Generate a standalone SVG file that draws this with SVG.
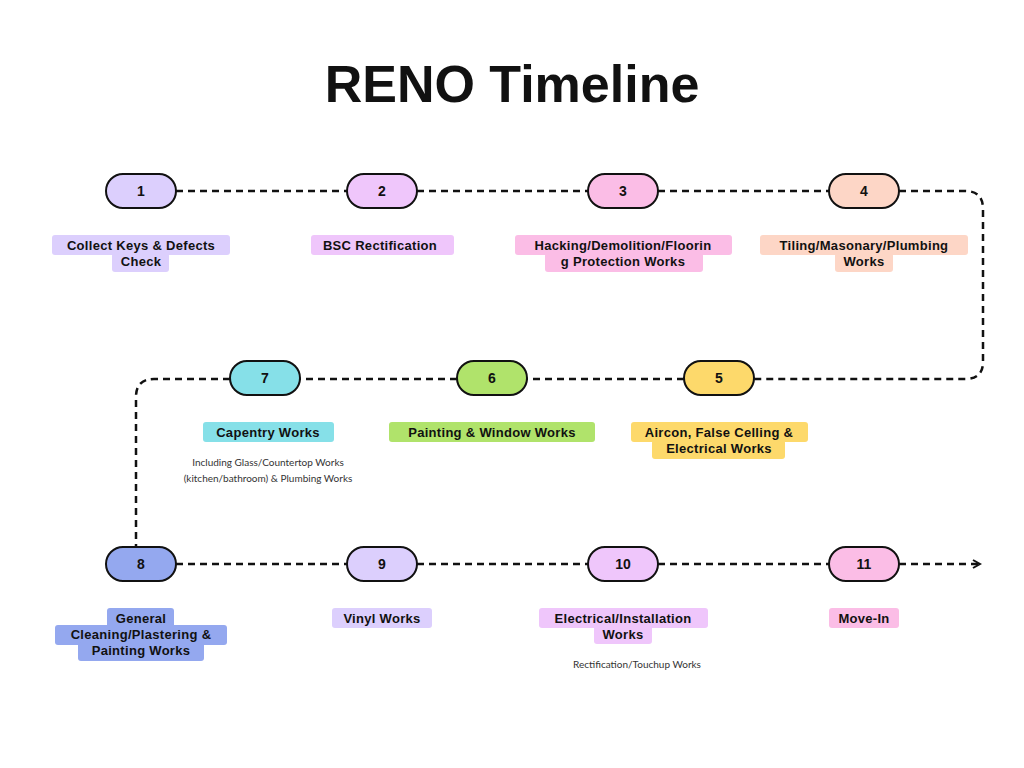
<svg xmlns="http://www.w3.org/2000/svg" width="1024" height="768" viewBox="0 0 1024 768">
<style>
.t{font-family:"Liberation Sans",Arial,sans-serif;font-weight:700;fill:#111;text-anchor:middle}
.n{font-size:14px}
.l{font-size:13px;letter-spacing:0.3px}
.s{font-family:Lato,"Liberation Sans",sans-serif;font-size:10px;fill:#333;text-anchor:middle}
.p{stroke:#111;stroke-width:2}
.c{fill:none;stroke:#111;stroke-width:2.5;stroke-dasharray:7 5}
</style>
<defs><marker id="a" markerWidth="10" markerHeight="10" refX="8" refY="5" orient="auto" markerUnits="userSpaceOnUse"><path d="M1,1 L8,5 L1,9" fill="none" stroke="#111" stroke-width="2"/></marker></defs>
<rect width="1024" height="768" fill="#fff"/>
<text x="512" y="102" class="t" style="font-size:52px">RENO Timeline</text>
<g id="connectors">
<path class="c" d="M176,191 H347 M417,191 H588 M658,191 H829"/>
<path class="c" d="M899,191 H965 Q983,191 983,209 V362 Q983,379 965,379 H754"/>
<path class="c" d="M684,379 H527 M457,379 H300"/>
<path class="c" d="M230,379 H154 Q136,379 136,397 V547"/>
<path class="c" d="M176,564 H347 M417,564 H588 M658,564 H829"/>
<path class="c" d="M899,564 H980" marker-end="url(#a)"/>
</g>
<g id="n1"><rect class="p" x="106" y="174" width="70" height="34" rx="17" fill="#dccffd"/><text x="141" y="196" class="t n">1</text>
<rect x="52" y="235" width="178" height="20" rx="3" fill="#dccffd"/><rect x="112" y="253" width="57" height="19" rx="3" fill="#dccffd"/>
<text x="141" y="250" class="t l">Collect Keys &amp; Defects</text><text x="141" y="266" class="t l">Check</text></g>
<g id="n2"><rect class="p" x="347" y="174" width="70" height="34" rx="17" fill="#efc6fb"/><text x="382" y="196" class="t n">2</text>
<rect x="311" y="235" width="143" height="20" rx="3" fill="#efc6fb"/><text x="380" y="250" class="t l">BSC Rectification</text></g>
<g id="n3"><rect class="p" x="588" y="174" width="70" height="34" rx="17" fill="#fbbde6"/><text x="623" y="196" class="t n">3</text>
<rect x="515" y="235" width="217" height="20" rx="3" fill="#fbbde6"/><rect x="545" y="253" width="158" height="19" rx="3" fill="#fbbde6"/>
<text x="623" y="250" class="t l">Hacking/Demolition/Floorin</text><text x="623" y="266" class="t l">g Protection Works</text></g>
<g id="n4"><rect class="p" x="829" y="174" width="70" height="34" rx="17" fill="#fdd6c6"/><text x="864" y="196" class="t n">4</text>
<rect x="760" y="235" width="208" height="20" rx="3" fill="#fdd6c6"/><rect x="835" y="253" width="58" height="19" rx="3" fill="#fdd6c6"/>
<text x="864" y="250" class="t l">Tiling/Masonary/Plumbing</text><text x="864" y="266" class="t l">Works</text></g>
<g id="n5"><rect class="p" x="684" y="361" width="70" height="34" rx="17" fill="#fdd96b"/><text x="719" y="383" class="t n">5</text>
<rect x="631" y="422" width="177" height="20" rx="3" fill="#fdd96b"/><rect x="652" y="440" width="133" height="19" rx="3" fill="#fdd96b"/>
<text x="719" y="437" class="t l">Aircon, False Celling &amp;</text><text x="719" y="453" class="t l">Electrical Works</text></g>
<g id="n6"><rect class="p" x="457" y="361" width="70" height="34" rx="17" fill="#b0e36b"/><text x="492" y="383" class="t n">6</text>
<rect x="389" y="422" width="206" height="20" rx="3" fill="#b0e36b"/><text x="492" y="437" class="t l">Painting &amp; Window Works</text></g>
<g id="n7"><rect class="p" x="230" y="361" width="70" height="34" rx="17" fill="#86e0e8"/><text x="265" y="383" class="t n">7</text>
<rect x="203" y="422" width="131" height="20" rx="3" fill="#86e0e8"/><text x="268" y="437" class="t l">Capentry Works</text>
<text x="268" y="466" class="s">Including Glass/Countertop Works</text><text x="268" y="482" class="s">(kitchen/bathroom) &amp; Plumbing Works</text></g>
<g id="n8"><rect class="p" x="106" y="547" width="70" height="34" rx="17" fill="#94a8ef"/><text x="141" y="569" class="t n">8</text>
<rect x="107" y="608" width="67" height="20" rx="3" fill="#94a8ef"/><rect x="55" y="625" width="172" height="20" rx="3" fill="#94a8ef"/><rect x="78" y="642" width="126" height="19" rx="3" fill="#94a8ef"/>
<text x="141" y="623" class="t l">General</text><text x="141" y="639" class="t l">Cleaning/Plastering &amp;</text><text x="141" y="655" class="t l">Painting Works</text></g>
<g id="n9"><rect class="p" x="347" y="547" width="70" height="34" rx="17" fill="#dccffd"/><text x="382" y="569" class="t n">9</text>
<rect x="332" y="608" width="100" height="20" rx="3" fill="#dccffd"/><text x="382" y="623" class="t l">Vinyl Works</text></g>
<g id="n10"><rect class="p" x="588" y="547" width="70" height="34" rx="17" fill="#efc6fb"/><text x="623" y="569" class="t n">10</text>
<rect x="539" y="608" width="169" height="20" rx="3" fill="#efc6fb"/><rect x="594" y="625" width="58" height="19" rx="3" fill="#efc6fb"/>
<text x="623" y="623" class="t l">Electrical/Installation</text><text x="623" y="639" class="t l">Works</text>
<text x="637" y="668" class="s">Rectification/Touchup Works</text></g>
<g id="n11"><rect class="p" x="829" y="547" width="70" height="34" rx="17" fill="#fbbde6"/><text x="864" y="569" class="t n">11</text>
<rect x="829" y="608" width="70" height="20" rx="3" fill="#fbbde6"/><text x="864" y="623" class="t l">Move-In</text></g>
</svg>
